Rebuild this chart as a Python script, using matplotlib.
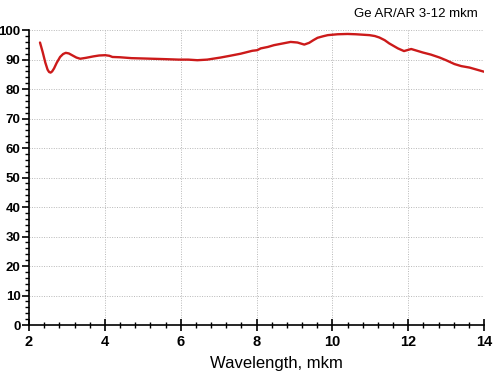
import matplotlib
matplotlib.use("Agg")
import matplotlib.pyplot as plt
from matplotlib.ticker import MultipleLocator

wavelength = [2.29, 2.36, 2.43, 2.49, 2.53, 2.57, 2.61, 2.66, 2.73, 2.82, 2.90, 2.97, 3.05, 3.15, 3.25, 3.35,
              3.50, 3.70, 3.85, 4.01, 4.12, 4.20, 4.40, 4.70, 4.98, 5.50, 5.95, 6.20, 6.44, 6.70, 7.05,
              7.30, 7.58, 7.89, 8.02, 8.11, 8.30, 8.46, 8.70, 8.90, 9.08, 9.26, 9.39, 9.50, 9.61, 9.75,
              9.88, 10.14, 10.40, 10.62, 10.98, 11.12, 11.24, 11.38, 11.50, 11.73, 11.89, 12.08, 12.39,
              12.60, 12.83, 13.00, 13.22, 13.40, 13.62, 14.00]
transmission = [95.8, 92.6, 89.0, 86.6, 85.8, 85.6, 86.0, 87.0, 88.9, 90.9, 91.9, 92.3, 92.1, 91.4, 90.7, 90.3,
                90.6, 91.1, 91.4, 91.5, 91.3, 90.9, 90.8, 90.5, 90.4, 90.2, 90.0, 90.0, 89.8, 90.0, 90.7,
                91.3, 92.0, 93.0, 93.2, 93.8, 94.3, 94.9, 95.5, 96.0, 95.8, 95.1, 95.7, 96.6, 97.4, 97.9,
                98.3, 98.6, 98.7, 98.6, 98.3, 98.0, 97.5, 96.6, 95.5, 93.8, 92.9, 93.6, 92.4,
                91.7, 90.7, 89.8, 88.5, 87.8, 87.3, 85.9]

title_text = "Ge AR/AR 3-12 mkm"
x_label = "Wavelength, mkm"

plt.rcParams['font.family'] = ['Liberation Sans', 'DejaVu Sans']

fig = plt.figure(figsize=(5.0, 3.72), dpi=100)
ax = fig.add_axes([0.058, 0.1263, 0.910, 0.7927])

ax.plot(wavelength, transmission, color='#cc1a1a', linewidth=1.7,
        solid_capstyle='round', solid_joinstyle='round')

ax.set_xlim(2, 14)
ax.set_ylim(0, 100)
ax.xaxis.set_major_locator(MultipleLocator(2))
ax.xaxis.set_minor_locator(MultipleLocator(0.4))
ax.yaxis.set_major_locator(MultipleLocator(10))
ax.yaxis.set_minor_locator(MultipleLocator(2))

ax.grid(True, which='major', color='#b8b8b8', linestyle=(0, (1, 1.5)), linewidth=0.7)
ax.set_axisbelow(True)

for s in ['top', 'right']:
    ax.spines[s].set_visible(False)
for s in ['left', 'bottom']:
    ax.spines[s].set_linewidth(1.2)
    ax.spines[s].set_color('black')

ax.tick_params(axis='y', which='major', length=5, width=1.2, labelsize=9.5, pad=1)
ax.tick_params(axis='x', which='major', direction='inout', length=8, width=1.2, labelsize=10.5, pad=3)
ax.tick_params(axis='x', which='minor', direction='inout', length=5, width=1.0)
ax.tick_params(axis='y', which='minor', direction='out', length=3, width=1.0)
for lbl in ax.get_xticklabels() + ax.get_yticklabels():
    lbl.set_fontweight('bold')

ax.set_xlabel(x_label, fontsize=12)
ax.xaxis.set_label_coords(0.543, -0.105)
fig.text(0.956, 0.962, title_text, ha='right', va='center', fontsize=9.5)

fig.savefig("out.png", dpi=100)
